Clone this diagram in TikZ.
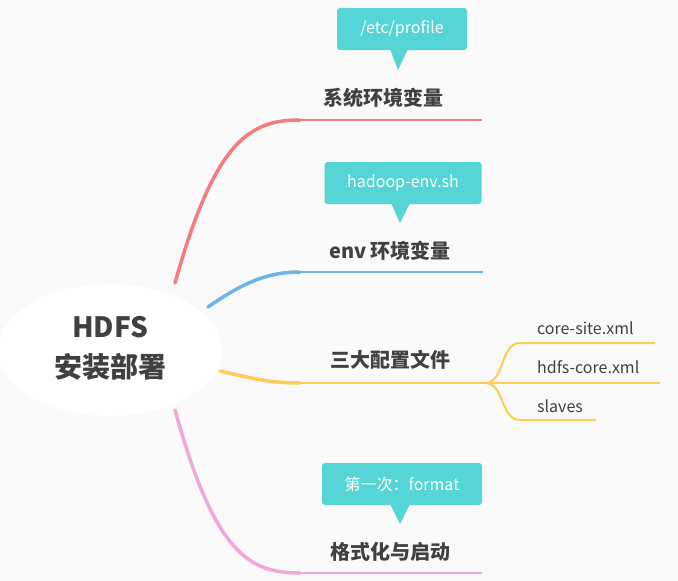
\documentclass[tikz,border=0pt]{standalone}
\usepackage{fontspec}
\setmainfont{Noto Sans CJK SC}
\begin{document}
\begin{tikzpicture}[x=1pt,y=-1pt,
  lbl/.style={font=\bfseries\fontsize{20}{24}\selectfont, text=black!75},
  sub/.style={font=\fontsize{16}{18}\selectfont, text=black!75, anchor=west, inner sep=0pt},
  callout/.style={rounded corners=3pt, text=white, font=\fontsize{16}{18}\selectfont, minimum height=42pt, inner xsep=8pt},
  br/.style={line width=3.5pt, line cap=round},
  hl/.style={line width=2pt}]
\definecolor{cred}{HTML}{F47C7C}
\definecolor{cblue}{HTML}{6BB5E8}
\definecolor{cyel}{HTML}{FFCC55}
\definecolor{cpink}{HTML}{F0A8DC}
\definecolor{cteal}{HTML}{55D5D5}
\fill[black!2] (0,0) rectangle (678,581);
\useasboundingbox (0,0) rectangle (678,581);
\fill[white] (110,350) ellipse (112 and 66);
\node[font=\bfseries\fontsize{28}{40}\selectfont, text=black!75, align=center] (root) at (110,348) {HDFS\\安装部署};
\coordinate (r0) at (175,283); \coordinate (r1) at (300,120); \coordinate (r2) at (482,120);
\coordinate (b0) at (208,307); \coordinate (b1) at (300,272); \coordinate (b2) at (483,272);
\coordinate (y0) at (220,371); \coordinate (y1) at (300,383); \coordinate (y2) at (485,383);
\coordinate (p0) at (175,410); \coordinate (p1) at (300,573); \coordinate (p2) at (482,573);
\draw[br,cred] (r0) .. controls (215,140) and (250,120) .. (r1);
\draw[hl,cred] (r1) -- (r2);
\draw[br,cblue] (b0) .. controls (240,285) and (265,272) .. (b1);
\draw[hl,cblue] (b1) -- (b2);
\draw[br,cyel] (y0) .. controls (250,378) and (270,383) .. (y1);
\draw[hl,cyel] (y1) -- (y2);
\draw[br,cpink] (p0) .. controls (215,555) and (250,573) .. (p1);
\draw[hl,cpink] (p1) -- (p2);
\node[lbl] (l1) at (383,98) {系统环境变量};
\node[lbl] (l2) at (390,251) {env 环境变量};
\node[lbl] (l3) at (390,360) {三大配置文件};
\node[lbl] (l4) at (390,552) {格式化与启动};
\coordinate (s1) at (520,343); \coordinate (s1e) at (655,343);
\coordinate (s2) at (520,383); \coordinate (s2e) at (660,383);
\coordinate (s3) at (520,420); \coordinate (s3e) at (596,420);
\draw[hl,cyel] (y2) .. controls (505,383) and (500,343) .. (s1) -- (s1e);
\draw[hl,cyel] (y2) -- (s2e);
\draw[hl,cyel] (y2) .. controls (505,383) and (500,420) .. (s3) -- (s3e);
\node[sub] (t1) at (537,328) {core-site.xml};
\node[sub] (t2) at (537,367) {hdfs-core.xml};
\node[sub] (t3) at (537,406) {slaves};
\node[callout, fill=cteal, minimum width=130pt] (c1) at (402,29) {/etc/profile};
\fill[cteal] (390,49) -- (398,70) -- (408,49) -- cycle;
\node[callout, fill=cteal, minimum width=157pt] (c2) at (403,183) {hadoop-env.sh};
\fill[cteal] (391,203) -- (400,223) -- (410,203) -- cycle;
\node[callout, fill=cteal, minimum width=160pt] (c3) at (402,484) {第一次：format};
\fill[cteal] (390,504) -- (400,524) -- (410,504) -- cycle;
\end{tikzpicture}
\end{document}
